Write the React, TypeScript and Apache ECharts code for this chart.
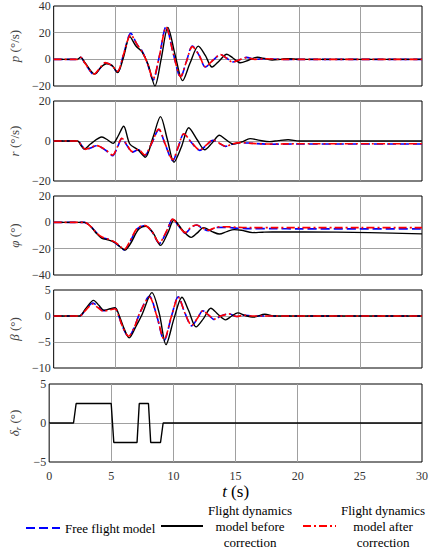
import React, { useEffect, useRef } from "react";
import * as echarts from "echarts";

// ---------- data ----------
const FREE = "Free flight model";
const BEFORE = "Flight dynamics model before correction";
const AFTER = "Flight dynamics model after correction";

const xTicks = [0, 5, 10, 15, 20, 25, 30];

// p (deg/s)
const pFreeT = [0, 1.9, 2.2, 2.55, 3.3, 3.8, 4.2, 4.7, 5.2, 5.7, 6.28, 6.8, 7.15, 7.6, 8.1, 8.6, 9.16, 9.75, 10.34, 10.8, 11.3, 11.85, 12.36, 13.0, 13.6, 14.1, 14.55, 15.1, 15.7, 16.4, 17.2, 18.5, 20, 30];
const pFreeV = [0, 0, 1.6, -3, -11.5, -6.5, -2.8, -4.5, -9.5, 4, 19.5, 11, 7, -2, -15.5, 2, 24.5, 4, -13.5, -2, 10, 3, -5.8, -0.5, 3.5, 0.8, -2, -0.5, 1.5, 0, 0.5, 0, 0, 0];
const pAfterV = [0, 0, 1.6, -3, -11, -6, -2.5, -4.5, -9, 4, 18.5, 11, 6.5, -2, -14.5, 2, 24, 4, -13, -2, 9.5, 3, -5.5, -0.5, 3.5, 0.8, -2, -0.5, 1.3, 0, 0.4, 0, 0, 0];
const pBeforeT = [0, 1.9, 2.2, 2.55, 3.35, 3.85, 4.3, 4.75, 5.2, 5.7, 6.2, 6.7, 7.2, 7.7, 8.25, 8.75, 9.3, 9.9, 10.5, 11.1, 11.78, 12.35, 12.9, 13.5, 14.1, 14.6, 15.2, 15.9, 16.6, 17.2, 17.8, 18.5, 19.1, 20, 30];
const pBeforeV = [0, 0, 1.5, -2.5, -11, -6, -3.3, -4.5, -10, 2, 17, 10, 5.6, -4, -20, 0, 24, 3, -16, -3, 9.9, 3, -5.8, -1, 3.8, 1, -2.6, -0.5, 1.6, 0.5, -0.5, 0, 0.5, 0, 0];

// r (deg/s)
const rFreeT = [0, 1.96, 2.25, 2.6, 3.0, 3.5, 4.2, 4.8, 5.2, 5.55, 6.0, 6.4, 6.9, 7.4, 8.0, 8.56, 9.1, 9.7, 10.15, 10.6, 11.25, 11.9, 12.45, 12.96, 13.5, 14.0, 14.6, 15.3, 16.2, 17.5, 20, 30];
const rFreeV = [0, 0, -2, -4.4, -3.5, -2.4, -4.5, -7.4, -3, 1.2, -2.5, -5.6, -4.4, -7.3, -1, 5.7, -2, -9.8, -3, 3.5, -1, -4.7, -2, 0.3, -1.2, -2.7, -1.5, -0.8, -1.2, -1.6, -1.5, -1.5];
const rAfterV = [0, 0, -2, -4.2, -3.3, -2.3, -4.3, -7.0, -2.8, 1.4, -2.3, -5.3, -4.2, -7.0, -0.8, 6.0, -1.8, -9.3, -2.8, 3.6, -0.9, -4.5, -1.9, 0.4, -1.1, -2.6, -1.4, -0.8, -1.2, -1.5, -1.4, -1.4];
const rBeforeT = [0, 1.96, 2.2, 2.5, 3.0, 3.93, 4.4, 4.84, 5.25, 5.7, 6.2, 6.86, 7.46, 8.1, 8.7, 9.25, 9.8, 10.4, 11.0, 11.7, 12.3, 12.9, 13.5, 14.0, 14.6, 15.3, 16.0, 16.8, 17.6, 18.3, 19.1, 20, 30];
const rBeforeV = [0, 0, -2, -4, -1.5, 2, 0.5, -1.2, 2.5, 7.4, -1.5, -4.4, -8.1, 2, 12.2, 1, -10.6, -3, 6.6, 0.5, -4.4, -1, 2.9, 0.8, -1.5, -0.5, 1.2, 0.3, -0.3, 0.2, 0.6, 0, 0];

// phi (deg)
const phiFreeT = [0, 2.5, 3.0, 3.5, 3.9, 4.5, 5.0, 5.4, 5.75, 6.2, 6.8, 7.45, 8.0, 8.6, 9.2, 9.7, 10.2, 10.7, 11.2, 11.65, 12.1, 12.6, 13.2, 14.0, 15, 16, 18, 20, 25, 30];
const phiFreeV = [0, 0, -3, -8, -11.4, -13, -15.5, -18.5, -21, -15, -5, -2.5, -7, -16, -7, 2.5, -3, -8.3, -4, -2, -4.5, -6.3, -4, -3.8, -4.5, -4.8, -4.8, -5, -5, -5];
const phiAfterV = [0, 0, -3, -8, -11, -13, -15, -18, -20.5, -14.5, -4.5, -2.5, -7, -15.5, -6.5, 2.5, -3, -7.8, -3.5, -2, -4.2, -6, -3.8, -3.3, -3.8, -4, -4, -4, -4, -4];
const phiBeforeT = [0, 2.5, 3.0, 3.5, 3.9, 4.5, 5.0, 5.4, 5.8, 6.3, 6.9, 7.5, 8.1, 8.7, 9.3, 9.8, 10.5, 11.2, 11.7, 12.2, 12.9, 13.5, 14.1, 14.7, 15.3, 16.2, 17.0, 17.8, 20.4, 25.7, 30];
const phiBeforeV = [0, 0, -3, -8.5, -12, -13.5, -15.5, -18.5, -21, -15.5, -5.5, -3, -8, -17.5, -8, 1.8, -6, -11.4, -8, -4, -7, -8.9, -7, -5.5, -6, -7.8, -7.5, -7.3, -7.3, -7.8, -8.8];

// beta (deg)
const betaFreeT = [0, 2.1, 2.6, 3.2, 3.6, 4.05, 4.6, 5.0, 5.3, 5.6, 6.1, 6.6, 7.0, 7.8, 8.4, 9.0, 9.6, 10.15, 10.7, 11.25, 11.7, 12.15, 12.6, 13.1, 13.6, 14.3, 14.9, 15.5, 16.2, 17, 30];
const betaFreeV = [0, 0, 1.2, 2.5, 1.8, 1.0, 1.3, 1.5, 0, -2, -4, -2, 0.5, 3.8, 0, -4.7, 0, 3.7, 0.5, -1.9, -0.5, 1, 0.2, -0.7, 0, 0.4, -0.1, 0.15, 0, 0, 0];
const betaAfterV = [0, 0, 1.1, 2.3, 1.6, 0.9, 1.2, 1.4, 0, -2, -3.9, -2, 0.5, 3.6, 0, -4.5, 0, 3.6, 0.5, -1.8, -0.5, 1, 0.2, -0.6, 0, 0.4, -0.1, 0.15, 0, 0, 0];
const betaBeforeT = [0, 2.1, 2.6, 3.25, 3.7, 4.1, 4.6, 5.0, 5.35, 5.7, 6.15, 6.7, 7.2, 8.0, 8.6, 9.15, 9.8, 10.45, 11.0, 11.6, 12.2, 12.8, 13.4, 14.0, 14.5, 15.0, 15.6, 16.3, 17.2, 18, 30];
const betaBeforeV = [0, 0, 1.4, 3.0, 2.0, 1.1, 1.4, 1.6, 0, -2.2, -4.2, -2, 0.3, 4.5, 0.5, -5.5, -0.5, 3.6, 1, -2.1, -0.5, 1.5, 0.3, -0.75, 0, 0.6, 0.1, -0.2, 0.35, 0, 0];

// rudder deflection (deg)
const dT = [0, 1.96, 2.17, 4.99, 5.2, 7.07, 7.25, 7.99, 8.17, 8.96, 9.17, 30];
const dV = [0, 0, 2.5, 2.5, -2.5, -2.5, 2.5, 2.5, -2.5, -2.5, 0, 0];

const yMins = [-20, -20, -40, -10, -5];
const yMaxs = [40, 20, 20, 5, 5];
const yIntervals = [20, 20, 20, 5, 5];
const yNames = [
  "{i|p} (°/s)",
  "{i|r} (°/s)",
  "{i|φ} (°)",
  "{i|β} (°)",
  "{i|δ}{sub|r} (°)",
];

const zip = (t: number[], v: number[]) => t.map((x, i) => [x, v[i]]);

const FONT = "Liberation Serif";

export default function App() {
  const ref = useRef<HTMLDivElement>(null);
  useEffect(() => {
    if (!ref.current) return;
    const chart = echarts.init(ref.current, undefined, { renderer: "svg" });

    const tops = [6, 101, 196, 290, 384];
    const heights = [80, 80, 79, 78, 78];
    const grids = tops.map((t, i) => ({
      left: 40,
      right: 12,
      top: t,
      height: heights[i],
      show: true,
      borderColor: "#000",
      borderWidth: 1,
      backgroundColor: "#fff",
    }));

    const xAxes = tops.map((_, i) => ({
      type: "value",
      gridIndex: i,
      min: xTicks[0],
      max: xTicks[xTicks.length - 1],
      interval: 5,
      axisLine: { show: false },
      axisTick: { show: false },
      axisLabel: {
        show: i === 4,
        margin: 8,
        fontFamily: FONT,
        fontSize: 12,
        color: "#333",
      },
      splitLine: {
        show: true,
        showMinLine: false,
        showMaxLine: false,
        lineStyle: { color: "#a0a0a0", width: 1 },
      },
      name: i === 4 ? "{i|t} (s)" : "",
      nameLocation: "middle",
      nameGap: 21,
      nameTextStyle: {
        fontFamily: FONT,
        fontSize: 17,
        color: "#000",
        rich: { i: { fontFamily: FONT, fontSize: 17, fontStyle: "italic", color: "#000" } },
      },
    }));

    const yAxes = tops.map((_, i) => ({
      type: "value",
      gridIndex: i,
      min: yMins[i],
      max: yMaxs[i],
      interval: yIntervals[i],
      axisLine: { show: false },
      axisTick: { show: false },
      axisLabel: {
        margin: 3,
        fontFamily: FONT,
        fontSize: 12,
        color: "#333",
        formatter: (v: number) => (v < 0 ? "\u2212" + Math.abs(v) : String(v)),
      },
      splitLine: {
        show: true,
        showMinLine: false,
        showMaxLine: false,
        lineStyle: { color: "#a0a0a0", width: 1 },
      },
      name: yNames[i],
      nameLocation: "middle",
      nameRotate: 90,
      nameGap: 20,
      nameTextStyle: {
        fontFamily: FONT,
        fontSize: 13,
        color: "#444",
        rich: {
          i: { fontFamily: FONT, fontSize: 13, fontStyle: "italic", color: "#444" },
          sub: { fontFamily: FONT, fontSize: 9, fontStyle: "italic", color: "#444", padding: [7, 0, 0, 0] },
        },
      },
    }));

    const freeStyle = { color: "#0000ff", width: 1.6, type: [9, 4] };
    const beforeStyle = { color: "#000000", width: 1.4, type: "solid" };
    const afterStyle = { color: "#ff0000", width: 1.6, type: [8, 3, 2, 3] };

    const mk = (name: string, idx: number, data: number[][], ls: any, smooth: any = 0.3) => ({
      type: "line",
      name,
      xAxisIndex: idx,
      yAxisIndex: idx,
      data,
      symbol: "none",
      smooth,
      lineStyle: ls,
      itemStyle: { color: ls.color },
    });

    const series = [
      mk(FREE, 0, zip(pFreeT, pFreeV), freeStyle),
      mk(BEFORE, 0, zip(pBeforeT, pBeforeV), beforeStyle),
      mk(AFTER, 0, zip(pFreeT, pAfterV), afterStyle),
      mk(FREE, 1, zip(rFreeT, rFreeV), freeStyle),
      mk(BEFORE, 1, zip(rBeforeT, rBeforeV), beforeStyle),
      mk(AFTER, 1, zip(rFreeT, rAfterV), afterStyle),
      mk(FREE, 2, zip(phiFreeT, phiFreeV), freeStyle),
      mk(BEFORE, 2, zip(phiBeforeT, phiBeforeV), beforeStyle),
      mk(AFTER, 2, zip(phiFreeT, phiAfterV), afterStyle),
      mk(FREE, 3, zip(betaFreeT, betaFreeV), freeStyle),
      mk(BEFORE, 3, zip(betaBeforeT, betaBeforeV), beforeStyle),
      mk(AFTER, 3, zip(betaFreeT, betaAfterV), afterStyle),
      mk(BEFORE, 4, zip(dT, dV), beforeStyle, false),
    ];

    const legendText = {
      fontFamily: FONT,
      fontSize: 13,
      color: "#000",
      lineHeight: 16,
      rich: { c: { fontFamily: FONT, fontSize: 13, color: "#000", lineHeight: 16, align: "center" } },
    };
    const legendFmt = (name: string) => {
      if (name === FREE) return "{c|Free flight model}";
      if (name === BEFORE) return "{c|Flight dynamics}\n{c|model before}\n{c|correction}";
      return "{c|Flight dynamics}\n{c|model after}\n{c|correction}";
    };
    const legendBase = {
      padding: 0,
      itemHeight: 12,
      selectedMode: false,
      formatter: legendFmt,
      textStyle: legendText,
      itemStyle: { opacity: 0 },
    };

    chart.setOption({
      animation: false,
      backgroundColor: "#fff",
      textStyle: { fontFamily: FONT },
      grid: grids,
      xAxis: xAxes,
      yAxis: yAxes,
      series,
      legend: [
        { ...legendBase, data: [FREE], left: 25, top: 520, itemWidth: 34 },
        { ...legendBase, data: [BEFORE], left: 160, top: 502, itemWidth: 42 },
        { ...legendBase, data: [AFTER], left: 302, top: 502, itemWidth: 33 },
      ],
    });
    return () => chart.dispose();
  }, []);

  return (
    <div
      ref={ref}
      style={{ position: "fixed", left: 0, top: 0, width: 434, height: 550, background: "#fff" }}
    />
  );
}
